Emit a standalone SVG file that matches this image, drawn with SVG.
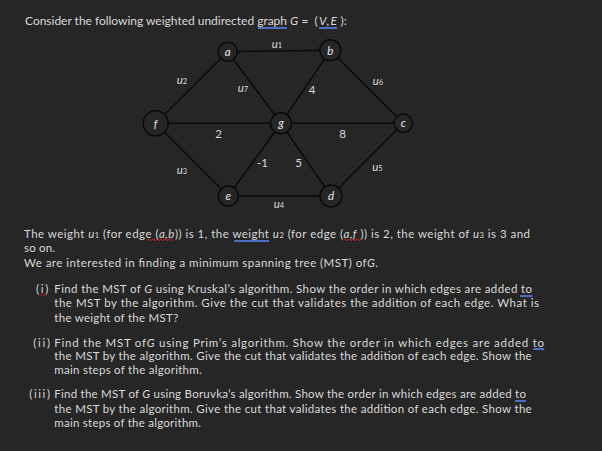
<svg xmlns="http://www.w3.org/2000/svg" width="602" height="451" viewBox="0 0 602 451">
<style>
.bg{fill:#262626}
.t{font-family:Lato,"Liberation Sans",sans-serif;font-size:11.5px;fill:#d9d9d9}
.ti{font-family:Lato,"Liberation Sans",sans-serif;font-size:12px;fill:#d9d9d9}
.i{font-style:italic}
.sub{font-size:7.5px}
.node circle{fill:#262626;stroke:#0a0a0a;stroke-width:1.5}
.node text{font-family:Lato,"Liberation Sans",sans-serif;font-size:11.5px;font-style:italic;fill:#e6e6e6;text-anchor:middle}
.edges line{stroke:#0a0a0a;stroke-width:1.5}
.lbl{font-family:Lato,"Liberation Sans",sans-serif;font-size:11.5px;fill:#d9d9d9;text-anchor:middle}
.blue{stroke:#4a6fc4;stroke-width:2;fill:none}
.red{stroke:#d02020;stroke-width:0.9;fill:none}
</style>
<rect class="bg" x="0" y="0" width="602" height="451"/>

<text class="ti" x="25" y="25" textLength="262" lengthAdjust="spacing">Consider the following weighted undirected graph</text>
<text class="ti i" x="290" y="25">G</text>
<text class="ti" x="301.5" y="25">=</text>
<text class="ti" x="314.5" y="25">(</text>
<text class="ti i" x="319" y="25" textLength="18" lengthAdjust="spacing">V,E</text>
<text class="ti" x="340.5" y="25">):</text>
<line class="blue" x1="258" y1="28" x2="287" y2="28"/>
<line class="blue" x1="319" y1="28" x2="337" y2="28"/>

<g class="edges">
<line x1="227.7" y1="51.7" x2="330.3" y2="50.3"/>
<line x1="227.7" y1="51.7" x2="155.7" y2="123.3"/>
<line x1="227.7" y1="51.7" x2="281" y2="123.3"/>
<line x1="330.3" y1="50.3" x2="281" y2="123.3"/>
<line x1="330.3" y1="50.3" x2="403.3" y2="123.3"/>
<line x1="155.7" y1="123.3" x2="281" y2="123.3"/>
<line x1="281" y1="123.3" x2="403.3" y2="123.3"/>
<line x1="155.7" y1="123.3" x2="228.3" y2="196"/>
<line x1="281" y1="123.3" x2="228.3" y2="196"/>
<line x1="281" y1="123.3" x2="331" y2="196"/>
<line x1="403.3" y1="123.3" x2="331" y2="196"/>
<line x1="228.3" y1="196" x2="331" y2="196"/>
</g>

<g id="labels">
<text class="lbl" x="277" y="48"><tspan class="i">u</tspan><tspan class="sub">1</tspan></text>
<text class="lbl" x="182" y="84"><tspan class="i">u</tspan><tspan class="sub">2</tspan></text>
<text class="lbl" x="243" y="92"><tspan class="i">u</tspan><tspan class="sub">7</tspan></text>
<text class="lbl" x="312" y="93.5">4</text>
<text class="lbl" x="378" y="85"><tspan class="i">u</tspan><tspan class="sub">6</tspan></text>
<text class="lbl" x="218.5" y="137.5">2</text>
<text class="lbl" x="342.5" y="137.5">8</text>
<text class="lbl" x="182" y="174"><tspan class="i">u</tspan><tspan class="sub">3</tspan></text>
<text class="lbl" x="262.5" y="166.5">-1</text>
<text class="lbl" x="298.5" y="166.5">5</text>
<text class="lbl" x="377.5" y="171"><tspan class="i">u</tspan><tspan class="sub">5</tspan></text>
<text class="lbl" x="279" y="208"><tspan class="i">u</tspan><tspan class="sub">4</tspan></text>
</g>

<g id="node-a" class="node"><circle cx="227.7" cy="51.7" r="9.5"/><text x="227.7" y="55.5">a</text></g>
<g id="node-b" class="node"><circle cx="330.3" cy="50.3" r="10.5"/><text x="330.3" y="54.5">b</text></g>
<g id="node-f" class="node"><circle cx="155.7" cy="123.3" r="12.5"/><text x="155.7" y="127.5">f</text></g>
<g id="node-g" class="node"><circle cx="281" cy="123.3" r="10.5"/><text x="281" y="126.5">g</text></g>
<g id="node-c" class="node"><circle cx="403.3" cy="123.3" r="9.2"/><text x="403.3" y="127">c</text></g>
<g id="node-e" class="node"><circle cx="228.3" cy="196" r="10"/><text x="228.3" y="199.5">e</text></g>
<g id="node-d" class="node"><circle cx="331" cy="196" r="11"/><text x="331" y="200">d</text></g>

<text class="t" x="24" y="238.3" textLength="506" lengthAdjust="spacing">The weight <tspan class="i">u</tspan><tspan class="sub">1</tspan> (for edge (<tspan class="i">a,b</tspan>)) is 1, the weight <tspan class="i">u</tspan><tspan class="sub">2</tspan> (for edge (<tspan class="i">a,f</tspan> )) is 2, the weight of <tspan class="i">u</tspan><tspan class="sub">3</tspan> is 3 and</text>
<path class="red" d="M147 240.5 l2 -1.2 l2 1.2 l2 -1.2 l2 1.2 l2 -1.2 l2 1.2 l2 -1.2 l2 1.2 l2 -1.2 l2 1.2 l2 -1.2 l2 1.2 l2 -1.2"/>
<line class="blue" x1="234.3" y1="241" x2="269.3" y2="241"/>
<path class="red" d="M343 240.5 l2 -1.2 l2 1.2 l2 -1.2 l2 1.2 l2 -1.2 l2 1.2 l2 -1.2 l2 1.2 l2 -1.2"/>
<text class="t" x="24" y="252.3" textLength="31" lengthAdjust="spacing">so on.</text>
<text class="t" x="24" y="266.7" textLength="354" lengthAdjust="spacing">We are interested in finding a minimum spanning tree (MST) of<tspan class="i">G</tspan>.</text>

<text class="t" x="36" y="293.3" textLength="12.3" lengthAdjust="spacing">(i)</text>
<path class="red" d="M39.5 295.5 l1.5 -1 l1.5 1 l1.5 -1 l1.5 1"/>
<text class="t" x="54.3" y="293.3" textLength="477.7" lengthAdjust="spacing">Find the MST of <tspan class="i">G</tspan> using Kruskal’s algorithm. Show the order in which edges are added to</text>
<line class="blue" x1="520" y1="296" x2="532.3" y2="296"/>
<text class="t" x="54.3" y="307.3" textLength="484.7" lengthAdjust="spacing">the MST by the algorithm. Give the cut that validates the addition of each edge. What is</text>
<text class="t" x="54.3" y="321.7" textLength="124" lengthAdjust="spacing">the weight of the MST?</text>

<text class="t" x="33.3" y="346.7" textLength="16.7" lengthAdjust="spacing">(ii)</text>
<text class="t" x="54.3" y="346.7" textLength="489.7" lengthAdjust="spacing">Find the MST of<tspan class="i">G</tspan> using Prim’s algorithm. Show the order in which edges are added to</text>
<line class="blue" x1="533.3" y1="349" x2="544.3" y2="349"/>
<text class="t" x="54.3" y="360" textLength="477.4" lengthAdjust="spacing">the MST by the algorithm. Give the cut that validates the addition of each edge. Show the</text>
<text class="t" x="54.3" y="374.3" textLength="147.4" lengthAdjust="spacing">main steps of the algorithm.</text>

<text class="t" x="29.3" y="398.3" textLength="20.7" lengthAdjust="spacing">(iii)</text>
<text class="t" x="54.3" y="398.3" textLength="471.7" lengthAdjust="spacing">Find the MST of <tspan class="i">G</tspan> using Boruvka’s algorithm. Show the order in which edges are added to</text>
<line class="blue" x1="515" y1="401" x2="526" y2="401"/>
<text class="t" x="54.3" y="412.7" textLength="477.4" lengthAdjust="spacing">the MST by the algorithm. Give the cut that validates the addition of each edge. Show the</text>
<text class="t" x="54.3" y="427.3" textLength="146.7" lengthAdjust="spacing">main steps of the algorithm.</text>
</svg>
